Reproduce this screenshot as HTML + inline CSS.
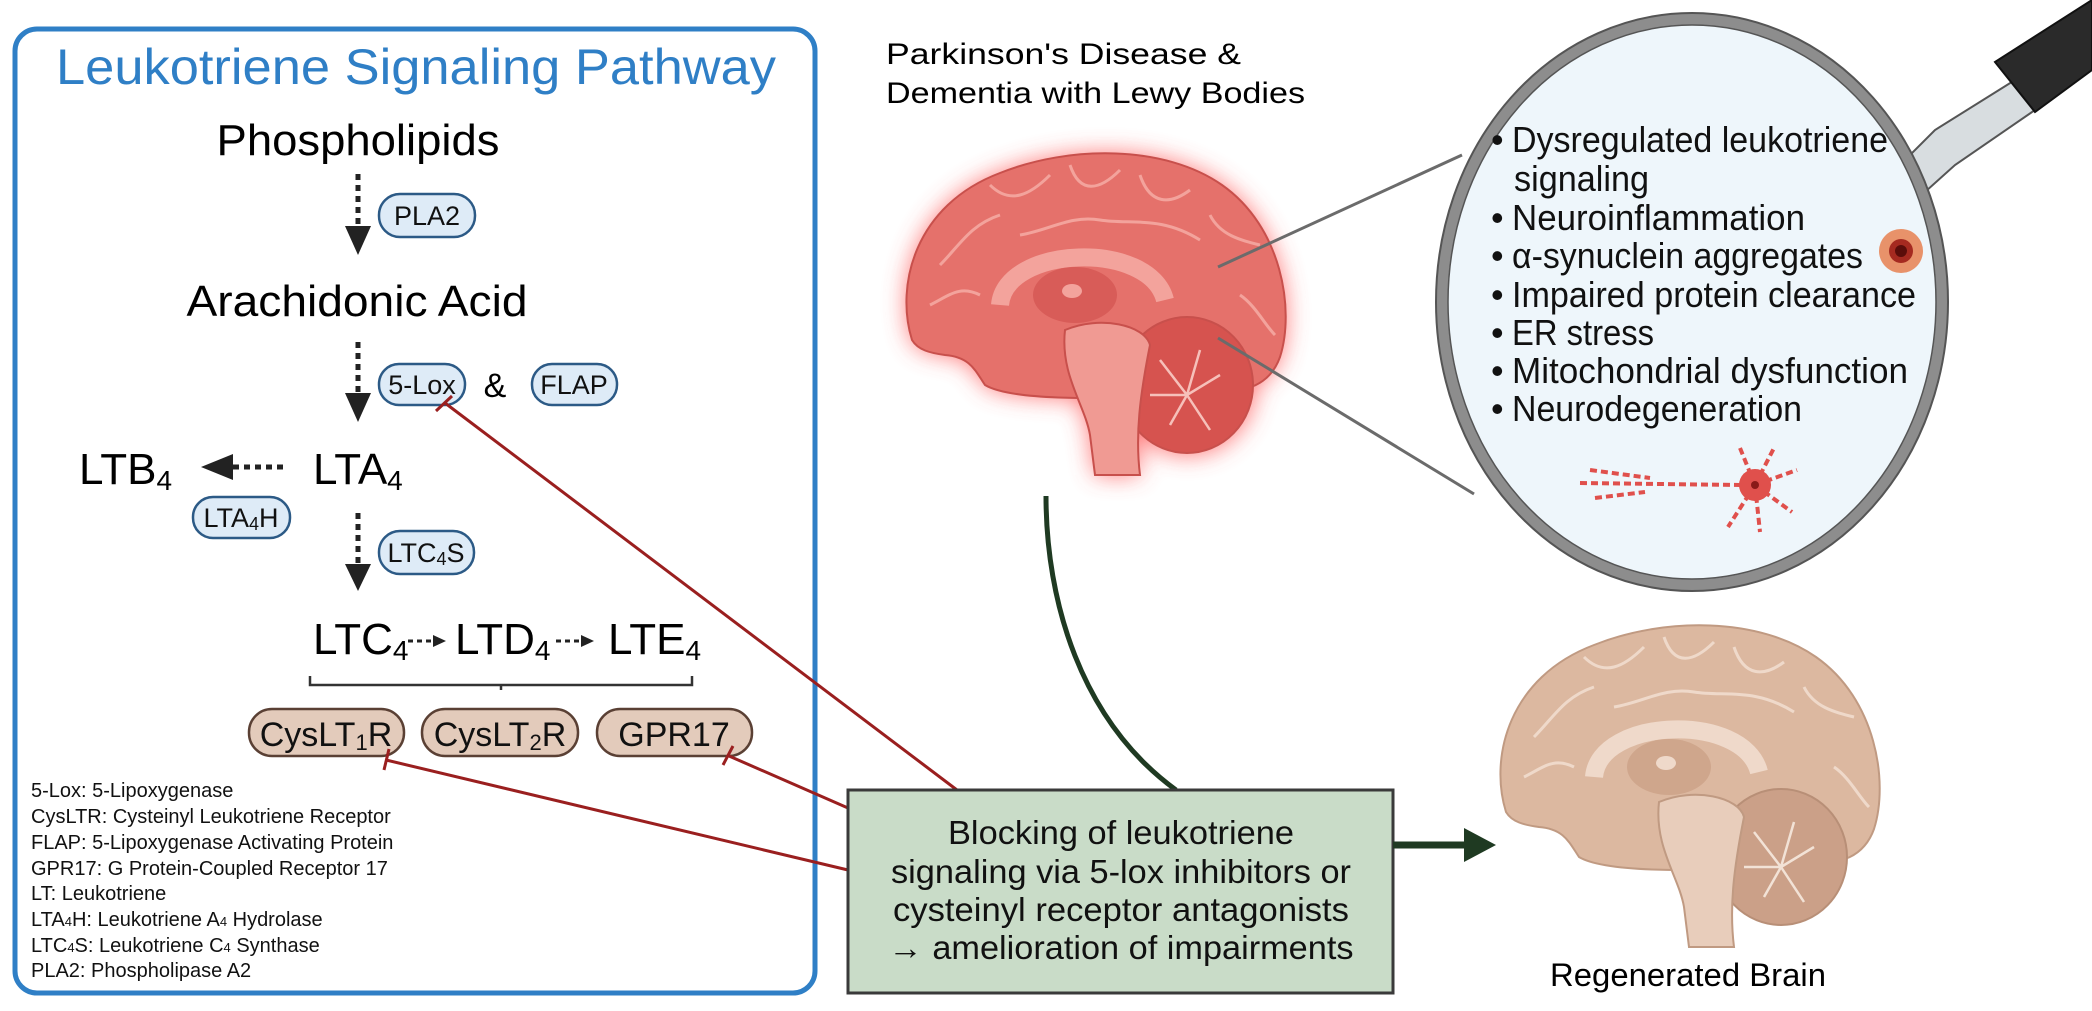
<!DOCTYPE html>
<html><head><meta charset="utf-8"><style>
html,body{margin:0;padding:0;background:#fff;}
svg{display:block;}
text{font-family:"Liberation Sans",sans-serif;}
</style></head><body>
<svg width="2092" height="1011" viewBox="0 0 2092 1011" xmlns="http://www.w3.org/2000/svg">
<defs>
<filter id="glow" x="-20%" y="-20%" width="140%" height="140%">
<feGaussianBlur stdDeviation="12"/>
</filter>
<g id="brainshape">
<path d="M12,195 C-5,140 15,60 100,28 C170,0 265,0 322,40 C382,82 395,165 380,212 C370,240 345,248 320,245 L250,250 C200,255 110,255 85,240 C75,225 70,212 45,210 C30,208 18,205 12,195 Z"/>
<ellipse cx="287" cy="240" rx="68" ry="70"/>
<path d="M165,185 C160,230 185,260 190,290 L195,330 L240,330 C235,290 240,250 250,200 C245,180 200,170 165,185 Z"/>
</g>
</defs>

<rect x="15" y="29" width="800" height="964" rx="22" fill="#fff" stroke="#2f7fc6" stroke-width="5"/>
<text x="416" y="84" font-size="50" fill="#2f7fc6" text-anchor="middle" textLength="720" lengthAdjust="spacingAndGlyphs">Leukotriene Signaling Pathway</text>

<text x="358" y="155" font-size="44" text-anchor="middle" textLength="283" lengthAdjust="spacingAndGlyphs">Phospholipids</text>
<g stroke="#222" stroke-width="5" stroke-dasharray="6,5"><line x1="358" y1="174" x2="358" y2="228"/><line x1="358" y1="342" x2="358" y2="395"/><line x1="358" y1="513" x2="358" y2="566"/><line x1="233" y1="467" x2="284" y2="467"/></g>
<g fill="#222"><polygon points="345,226 371,226 358,255"/><polygon points="345,393 371,393 358,422"/><polygon points="345,564 371,564 358,591"/><polygon points="233,454 233,480 201,467"/></g>

<g fill="#deebf7" stroke="#2c5a86" stroke-width="2.5">
<rect x="379" y="194" width="96" height="43" rx="21"/>
<rect x="379" y="364" width="86" height="41" rx="20"/>
<rect x="532" y="364" width="85" height="41" rx="20"/>
<rect x="193" y="497" width="97" height="41" rx="20"/>
<rect x="379" y="531" width="95" height="43" rx="21"/>
</g>
<g font-size="27" fill="#111" text-anchor="middle">
<text x="427" y="225">PLA2</text>
<text x="422" y="394">5-Lox</text>
<text x="574" y="394">FLAP</text>
<text x="241" y="527">LTA<tspan font-size="18" dy="3">4</tspan><tspan dy="-3">H</tspan></text>
<text x="426" y="562">LTC<tspan font-size="18" dy="3">4</tspan><tspan dy="-3">S</tspan></text>
</g>
<text x="495" y="397" font-size="34" text-anchor="middle">&amp;</text>

<text x="357" y="316" font-size="44" text-anchor="middle" textLength="341" lengthAdjust="spacingAndGlyphs">Arachidonic Acid</text>
<text x="79" y="484" font-size="44">LTB<tspan font-size="28" dy="6">4</tspan></text>
<text x="313" y="484" font-size="44">LTA<tspan font-size="28" dy="6">4</tspan></text>

<text x="313" y="654" font-size="44">LTC<tspan font-size="28" dy="6">4</tspan></text>
<text x="455" y="654" font-size="44">LTD<tspan font-size="28" dy="6">4</tspan></text>
<text x="608" y="654" font-size="44">LTE<tspan font-size="28" dy="6">4</tspan></text>
<g stroke="#222" stroke-width="3" stroke-dasharray="5,4"><line x1="408" y1="641" x2="434" y2="641"/><line x1="556" y1="641" x2="582" y2="641"/></g>
<g fill="#222"><polygon points="433,635 446,641 433,647"/><polygon points="581,635 594,641 581,647"/></g>
<path d="M310,676 L310,685 L692,685 L692,676 M501,685 L501,690" fill="none" stroke="#333" stroke-width="2.5"/>

<g fill="#e3cbbb" stroke="#5a4034" stroke-width="2.5">
<rect x="249" y="709" width="155" height="47" rx="23"/>
<rect x="422" y="709" width="156" height="47" rx="23"/>
<rect x="597" y="709" width="155" height="47" rx="23"/>
</g>
<g font-size="34" fill="#111" text-anchor="middle">
<text x="326" y="746">CysLT<tspan font-size="22" dy="4">1</tspan><tspan dy="-4">R</tspan></text>
<text x="500" y="746">CysLT<tspan font-size="22" dy="4">2</tspan><tspan dy="-4">R</tspan></text>
<text x="674" y="746">GPR17</text>
</g>

<g font-size="20" fill="#111">
<text x="31" y="797">5-Lox: 5-Lipoxygenase</text>
<text x="31" y="823">CysLTR: Cysteinyl Leukotriene Receptor</text>
<text x="31" y="849">FLAP: 5-Lipoxygenase Activating Protein</text>
<text x="31" y="875">GPR17: G Protein-Coupled Receptor 17</text>
<text x="31" y="900">LT: Leukotriene</text>
<text x="31" y="926">LTA<tspan font-size="13">4</tspan>H: Leukotriene A<tspan font-size="13">4</tspan> Hydrolase</text>
<text x="31" y="952">LTC<tspan font-size="13">4</tspan>S: Leukotriene C<tspan font-size="13">4</tspan> Synthase</text>
<text x="31" y="977">PLA2: Phospholipase A2</text>
</g>

<g stroke="#9a1f1f" stroke-width="3" fill="none">
<line x1="445" y1="403" x2="957" y2="790"/>
<line x1="436" y1="411" x2="452" y2="396"/>
<line x1="729" y1="756" x2="848" y2="808"/>
<line x1="723" y1="765" x2="733" y2="746"/>
<line x1="386" y1="760" x2="848" y2="870"/>
<line x1="384" y1="770" x2="389" y2="749"/>
</g>

<text x="886" y="64" font-size="30" textLength="355" lengthAdjust="spacingAndGlyphs">Parkinson's Disease &amp;</text>
<text x="886" y="103" font-size="30" textLength="419" lengthAdjust="spacingAndGlyphs">Dementia with Lewy Bodies</text>

<g transform="translate(900,145)">
<use href="#brainshape" fill="#ff4a4a" opacity="0.75" filter="url(#glow)"/>
<path d="M12,195 C-5,140 15,60 100,28 C170,0 265,0 322,40 C382,82 395,165 380,212 C370,240 345,248 320,245 L250,250 C200,255 110,255 85,240 C75,225 70,212 45,210 C30,208 18,205 12,195 Z" fill="#e5716b" stroke="#c8504c" stroke-width="2"/>
<g fill="none" stroke="#f3a39c" stroke-width="3">
<path d="M40,120 C60,100 70,80 100,70 M90,40 C110,60 130,50 150,30 M170,20 C180,50 200,45 220,25 M240,30 C250,60 270,60 290,45 M310,70 C320,90 340,95 360,100 M30,160 C50,150 60,140 80,150 M340,150 C355,160 365,180 375,190 M120,90 C150,85 170,70 200,75 C230,80 260,70 300,95"/>
</g>
<path d="M100,160 C105,100 250,95 265,155" fill="none" stroke="#f3a39c" stroke-width="18"/>
<ellipse cx="175" cy="150" rx="42" ry="28" fill="#d85c58"/>
<ellipse cx="172" cy="146" rx="10" ry="7" fill="#f3a39c"/>
<ellipse cx="287" cy="240" rx="66" ry="68" fill="#d6534f" stroke="#c8504c" stroke-width="2"/>
<path d="M287,250 L260,215 M287,250 L300,205 M287,250 L320,230 M287,250 L270,280 M287,250 L310,285 M287,250 L250,250" stroke="#f6c0ba" stroke-width="2.5" fill="none"/>
<path d="M165,185 C160,230 185,260 190,290 L195,330 L240,330 C235,290 240,250 250,200 C245,180 200,170 165,185 Z" fill="#f09a93" stroke="#c8504c" stroke-width="2"/>
</g>

<g stroke="#6b6b6b" stroke-width="3"><line x1="1218" y1="267" x2="1462" y2="155"/><line x1="1218" y1="338" x2="1474" y2="494"/></g>

<polygon points="1905,160 1935,130 2015,80 2035,110 1955,165 1925,192" fill="#d8dde0" stroke="#555" stroke-width="2"/>
<polygon points="1995,62 2092,0 2092,70 2035,112" fill="#2a2a2a" stroke="#111" stroke-width="2"/>
<ellipse cx="1692" cy="302" rx="250" ry="283" fill="#eef6fb" stroke="#8d8d8d" stroke-width="11"/>
<ellipse cx="1692" cy="302" rx="256" ry="289" fill="none" stroke="#555" stroke-width="2"/>
<ellipse cx="1692" cy="302" rx="244" ry="277" fill="none" stroke="#555" stroke-width="1.5"/>
<g font-size="36" fill="#111">
<text x="1491" y="152">•</text><text x="1512" y="152" textLength="376" lengthAdjust="spacingAndGlyphs">Dysregulated leukotriene</text>
<text x="1514" y="191" textLength="135" lengthAdjust="spacingAndGlyphs">signaling</text>
<text x="1491" y="230">•</text><text x="1512" y="230" textLength="293" lengthAdjust="spacingAndGlyphs">Neuroinflammation</text>
<text x="1491" y="268">•</text><text x="1512" y="268" textLength="351" lengthAdjust="spacingAndGlyphs">α-synuclein aggregates</text>
<text x="1491" y="307">•</text><text x="1512" y="307" textLength="404" lengthAdjust="spacingAndGlyphs">Impaired protein clearance</text>
<text x="1491" y="345">•</text><text x="1512" y="345" textLength="142" lengthAdjust="spacingAndGlyphs">ER stress</text>
<text x="1491" y="383">•</text><text x="1512" y="383" textLength="396" lengthAdjust="spacingAndGlyphs">Mitochondrial dysfunction</text>
<text x="1491" y="421">•</text><text x="1512" y="421" textLength="290" lengthAdjust="spacingAndGlyphs">Neurodegeneration</text>
</g>
<circle cx="1901" cy="251" r="22" fill="#e8926a"/>
<circle cx="1901" cy="251" r="12" fill="#a52a20"/>
<circle cx="1901" cy="251" r="6" fill="#5a0d0a"/>
<g stroke="#e0504c" stroke-width="4" fill="none" stroke-dasharray="7,4">
<path d="M1580,483 L1740,485"/><path d="M1590,470 L1650,478"/><path d="M1595,498 L1645,492"/>
<path d="M1755,485 L1740,448 M1755,485 L1775,446 M1755,485 L1797,470 M1755,485 L1792,512 M1755,485 L1760,532 M1755,485 L1728,527"/>
</g>
<circle cx="1755" cy="485" r="16" fill="#e0504c"/>
<circle cx="1755" cy="485" r="4" fill="#8a1a18"/>

<path d="M1046,496 C1046,600 1080,720 1176,790" fill="none" stroke="#1f3a22" stroke-width="5"/>
<rect x="848" y="790" width="545" height="203" fill="#c9dcc8" stroke="#3a3a3a" stroke-width="3"/>
<g font-size="33" fill="#111" text-anchor="middle">
<text x="1121" y="844" textLength="346" lengthAdjust="spacingAndGlyphs">Blocking of leukotriene</text>
<text x="1121" y="883" textLength="460" lengthAdjust="spacingAndGlyphs">signaling via 5-lox inhibitors or</text>
<text x="1121" y="921" textLength="456" lengthAdjust="spacingAndGlyphs">cysteinyl receptor antagonists</text>
<text x="1121" y="959" textLength="465" lengthAdjust="spacingAndGlyphs">→ amelioration of impairments</text>
</g>
<line x1="1393" y1="845" x2="1470" y2="845" stroke="#1f3a22" stroke-width="7"/>
<polygon points="1464,828 1496,845 1464,862" fill="#1f3a22"/>

<g transform="translate(1494,617)">
<path d="M12,195 C-5,140 15,60 100,28 C170,0 265,0 322,40 C382,82 395,165 380,212 C370,240 345,248 320,245 L250,250 C200,255 110,255 85,240 C75,225 70,212 45,210 C30,208 18,205 12,195 Z" fill="#dcb8a0" stroke="#c09a82" stroke-width="2"/>
<g fill="none" stroke="#efd9ca" stroke-width="3">
<path d="M40,120 C60,100 70,80 100,70 M90,40 C110,60 130,50 150,30 M170,20 C180,50 200,45 220,25 M240,30 C250,60 270,60 290,45 M310,70 C320,90 340,95 360,100 M30,160 C50,150 60,140 80,150 M340,150 C355,160 365,180 375,190 M120,90 C150,85 170,70 200,75 C230,80 260,70 300,95"/>
</g>
<path d="M100,160 C105,100 250,95 265,155" fill="none" stroke="#efd9ca" stroke-width="18"/>
<ellipse cx="175" cy="150" rx="42" ry="28" fill="#cfa68c"/>
<ellipse cx="172" cy="146" rx="10" ry="7" fill="#efd9ca"/>
<ellipse cx="287" cy="240" rx="66" ry="68" fill="#cba088" stroke="#b88f77" stroke-width="2"/>
<path d="M287,250 L260,215 M287,250 L300,205 M287,250 L320,230 M287,250 L270,280 M287,250 L310,285 M287,250 L250,250" stroke="#f2e2d6" stroke-width="2.5" fill="none"/>
<path d="M165,185 C160,230 185,260 190,290 L195,330 L240,330 C235,290 240,250 250,200 C245,180 200,170 165,185 Z" fill="#e8cdbb" stroke="#c09a82" stroke-width="2"/>
</g>
<text x="1688" y="986" font-size="32" text-anchor="middle" textLength="276" lengthAdjust="spacingAndGlyphs">Regenerated Brain</text>
</svg>
</body></html>
